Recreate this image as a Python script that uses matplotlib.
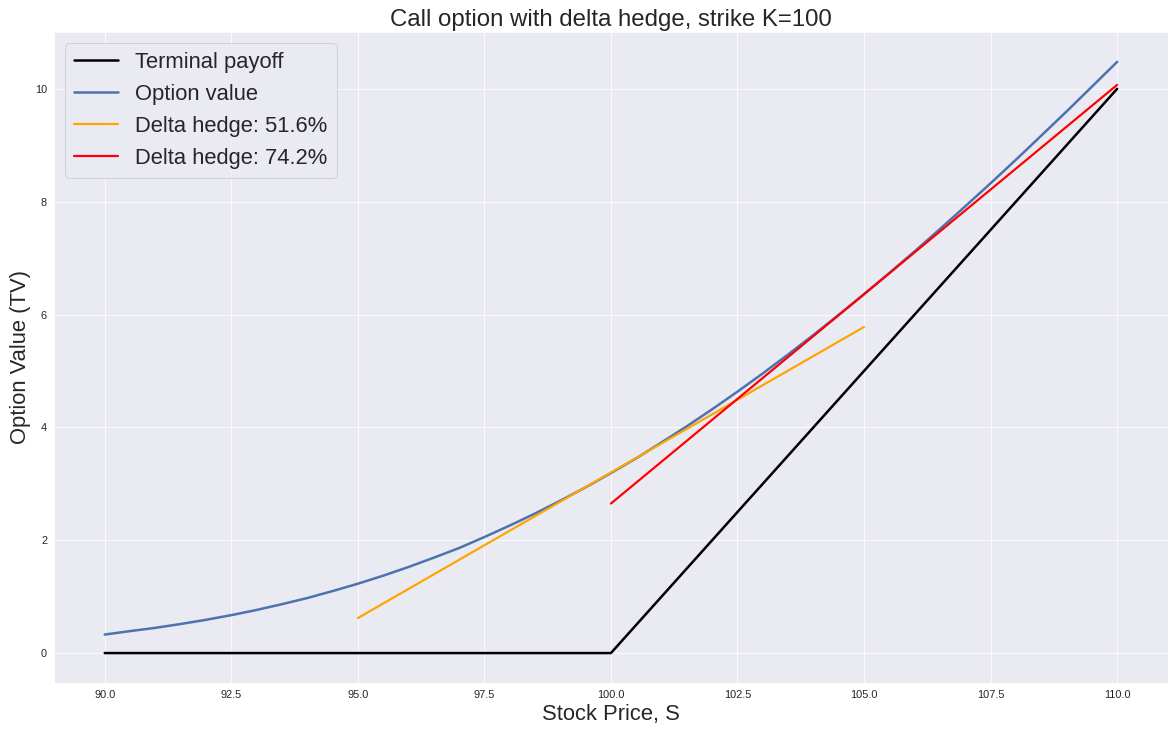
import numpy as np
import matplotlib
matplotlib.use("Agg")
import matplotlib.pyplot as plt
import seaborn as sns

sns.set_style("darkgrid")
plt.rcParams['font.family'] = ['Liberation Sans', 'DejaVu Sans']

# values
strike = 100
payoff_s = [90, 100, 110]
payoff_v = [0.0, 0.0, 10.0]

stock = [90.0, 90.5, 91.0, 91.5, 92.0, 92.5, 93.0, 93.5, 94.0, 94.5,
         95.0, 95.5, 96.0, 96.5, 97.0, 97.5, 98.0, 98.5, 99.0, 99.5,
         100.0, 100.5, 101.0, 101.5, 102.0, 102.5, 103.0, 103.5, 104.0, 104.5,
         105.0, 105.5, 106.0, 106.5, 107.0, 107.5, 108.0, 108.5, 109.0, 109.5,
         110.0]
option_value = [0.328, 0.389, 0.447, 0.515, 0.589, 0.672, 0.764, 0.866, 0.975, 1.098,
                1.229, 1.371, 1.525, 1.690, 1.861, 2.056, 2.260, 2.473, 2.700, 2.937,
                3.190, 3.452, 3.733, 4.020, 4.321, 4.633, 4.956, 5.292, 5.638, 5.995,
                6.360, 6.736, 7.120, 7.515, 7.918, 8.326, 8.743, 9.169, 9.598, 10.037,
                10.478]

hedge1_s = [95, 105]
hedge1_v = [0.62, 5.78]
hedge2_s = [100, 110]
hedge2_v = [2.65, 10.07]

fig, ax = plt.subplots(figsize=(1176 / 72, 734 / 72), dpi=72)
ax.plot(payoff_s, payoff_v, color="black", lw=2.5, label="Terminal payoff")
ax.plot(stock, option_value, color="#4c72b0", lw=2.5, label="Option value",
        solid_joinstyle="round")
ax.plot(hedge1_s, hedge1_v, color="orange", lw=2.2, label="Delta hedge: 51.6%")
ax.plot(hedge2_s, hedge2_v, color="red", lw=2.2, label="Delta hedge: 74.2%")

ax.set_title(f"Call option with delta hedge, strike K={strike}", fontsize=24)
ax.set_xlabel("Stock Price, S", fontsize=22)
ax.set_ylabel("Option Value (TV)", fontsize=22)
ax.tick_params(labelsize=11)
ax.set_xticks(np.arange(90, 110.1, 2.5))
ax.legend(fontsize=22, loc="upper left")

fig.subplots_adjust(left=0.046, right=0.993, top=0.956, bottom=0.07)
fig.savefig("out.png", dpi=72)
